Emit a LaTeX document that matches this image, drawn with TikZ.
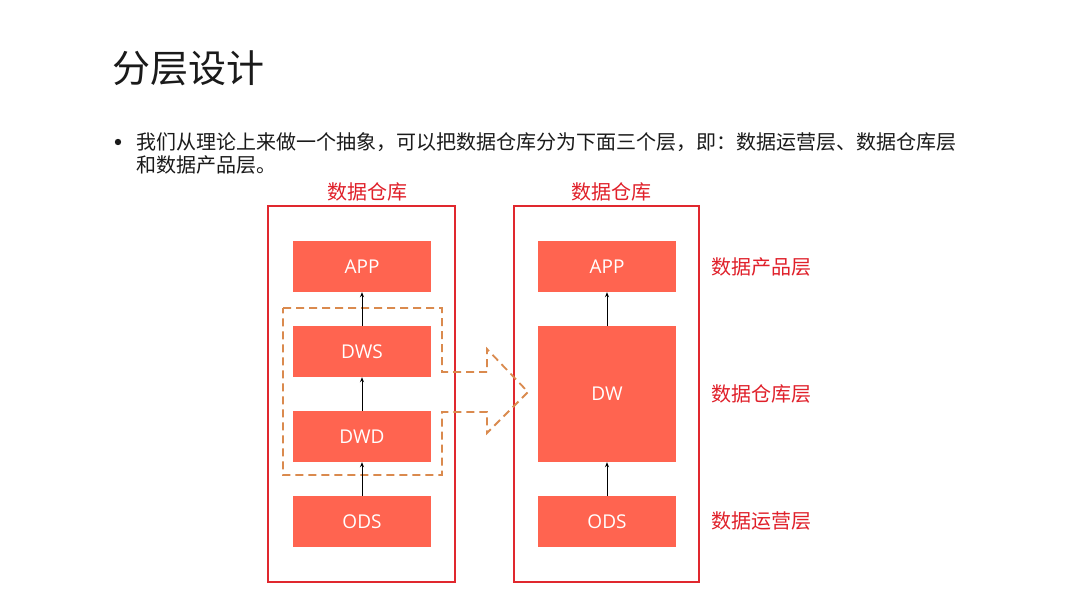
\documentclass[tikz,border=0pt]{standalone}
\usepackage{fontspec}
\setmainfont{Noto Sans CJK SC}
\newfontfamily\latinfont{Open Sans}
\usetikzlibrary{arrows.meta}
\definecolor{boxfill}{HTML}{FF6450}
\definecolor{framered}{HTML}{E0282E}
\definecolor{labelred}{HTML}{E0202A}
\definecolor{dashorange}{HTML}{DA8A4E}
\definecolor{bodytext}{HTML}{1A1A1A}
\begin{document}
\begin{tikzpicture}[x=1pt,y=-1pt,
  layerbox/.style={rectangle, fill=boxfill, draw=none, minimum width=138pt, text=white,
    font=\latinfont\fontsize{19}{19}\selectfont, inner sep=0pt},
  frame/.style={rectangle, draw=framered, line width=1.6pt, inner sep=0pt},
  redlabel/.style={text=labelred, font=\fontsize{20}{20}\selectfont, inner sep=0pt},
  flow/.style={-{Stealth[length=5pt,width=4pt]}, line width=1pt, black},
  bigarrow/.style={draw=dashorange, line width=1.8pt, dash pattern=on 8pt off 5pt}
]
\useasboundingbox (0,0) rectangle (1080,607);
\fill[white] (0,0) rectangle (1080,607);

% heading
\node[anchor=west, inner sep=0pt, text=bodytext, font=\fontsize{38}{38}\selectfont] (title) at (112,68) {分层设计};

% bullet text
\fill[bodytext] (118,142) circle (3.2pt);
\node[anchor=west, inner sep=0pt, text=bodytext, font=\fontsize{20}{20}\selectfont] (line1) at (136,142) {我们从理论上来做一个抽象，可以把数据仓库分为下面三个层，即：数据运营层、数据仓库层};
\node[anchor=west, inner sep=0pt, text=bodytext, font=\fontsize{20}{20}\selectfont] (line2) at (136,165) {和数据产品层。};

% outer frames
\node[frame, minimum width=187pt, minimum height=376pt] (lframe) at (361.5,394) {};
\node[frame, minimum width=185pt, minimum height=376pt] (rframe) at (606.5,394) {};
\node[redlabel] (ltitle) at (367,192) {数据仓库};
\node[redlabel] (rtitle) at (611,192) {数据仓库};

% dashed arrow outline
\draw[bigarrow] (283,308) -- (442,308) -- (442,372) -- (487,372) -- (487,349) -- (528,392)
  -- (487,433) -- (487,412) -- (442,412) -- (442,475) -- (283,475) -- cycle;

% left column
\node[layerbox, minimum height=51pt] (lapp) at (362,266.5) {APP};
\node[layerbox, minimum height=51pt] (ldws) at (362,351.5) {DWS};
\node[layerbox, minimum height=51pt] (ldwd) at (362,436.5) {DWD};
\node[layerbox, minimum height=51pt] (lods) at (362,521.5) {ODS};

% right column
\node[layerbox, minimum height=51pt] (rapp) at (607,266.5) {APP};
\node[layerbox, minimum height=136pt] (rdw) at (607,394) {DW};
\node[layerbox, minimum height=51pt] (rods) at (607,521.5) {ODS};

% connectors
\draw[flow] (lods.north) -- (ldwd.south);
\draw[flow] (ldwd.north) -- (ldws.south);
\draw[flow] (ldws.north) -- (lapp.south);
\draw[flow] (rods.north) -- (rdw.south);
\draw[flow] (rdw.north) -- (rapp.south);

% layer names
\node[redlabel, anchor=west] (prod) at (711,267) {数据产品层};
\node[redlabel, anchor=west] (dwl) at (711,394) {数据仓库层};
\node[redlabel, anchor=west] (ops) at (711,521) {数据运营层};
\end{tikzpicture}
\end{document}
